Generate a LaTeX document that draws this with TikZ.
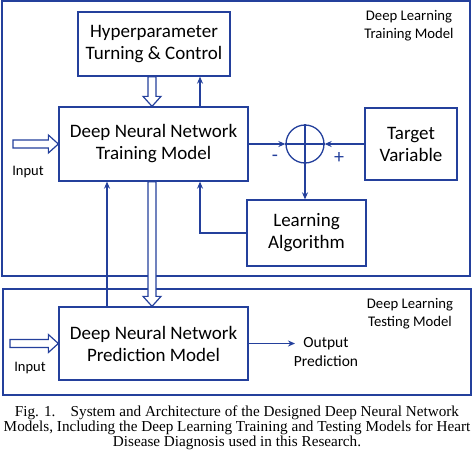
\documentclass[tikz,border=0pt]{standalone}
\usepackage{fontspec}
\setmainfont{Carlito}
\newfontfamily\capfont{Liberation Serif}
\usetikzlibrary{calc,arrows.meta,positioning}
\definecolor{dnnblue}{RGB}{36,64,156}
\tikzstyle{arrow} = [line width=1.3pt,-{Stealth[length=7pt,width=6pt]},draw=dnnblue]
\tikzstyle{box} = [draw=dnnblue,line width=1.3pt,align=center,inner sep=0pt,font=\fontsize{19}{22}\selectfont]
\tikzstyle{lbl} = [align=center,inner sep=0pt,font=\fontsize{14.7}{18}\selectfont]
\tikzstyle{hollow} = [draw=dnnblue,line width=1.2pt,fill=white]
\newcommand{\HollowArrow}[2]% #1=tail, #2=tip
{\coordinate (hb) at ($(#2)!10pt!(#1)$);
 \draw[hollow] ($(#1)!4pt!90:(#2)$) -- ($(hb)!4pt!-90:(#1)$) -- ($(hb)!9pt!-90:(#1)$)
   -- (#2) -- ($(hb)!9pt!90:(#1)$) -- ($(hb)!4pt!90:(#1)$) -- ($(#1)!4pt!-90:(#2)$) -- cycle;
}
\begin{document}
\begin{tikzpicture}[x=1pt,y=-1pt]
    \useasboundingbox (0,0) rectangle (474,458);

    % frames of the two models
    \draw[dnnblue, line width=2pt] (2,1) rectangle (470,276);
    \draw[dnnblue, line width=2pt] (3,289) rectangle (471,395);

    \node[box, minimum width=152, minimum height=64] (hyper) at (154,44) {Hyperparameter\\Turning \& Control};
    \node[box, minimum width=189, minimum height=74] (train) at (153.5,144) {Deep Neural Network\\Training Model};
    \node[box, minimum width=92, minimum height=72] (target) at (411,144) {Target\\Variable};
    \node[box, minimum width=119, minimum height=66] (learn) at (306.5,233) {Learning\\Algorithm};
    \node[box, minimum width=189, minimum height=73] (pred) at (153.5,343.5) {Deep Neural Network\\Prediction Model};

    \node[draw=dnnblue, line width=1.3pt, circle, minimum size=38, inner sep=0pt] (sum) at (305,144) {};
    \draw[dnnblue, line width=1.3pt] (sum.north) -- (sum.south) (sum.west) -- (sum.east);

    \node[lbl] (trainlbl) at (409,26) {Deep Learning\\Training Model};
    \node[lbl] (testlbl) at (410,314) {Deep Learning\\Testing Model};
    \node[lbl, font=\fontsize{14.5}{17}\selectfont] (inlbl1) at (28,172) {Input};
    \node[lbl, font=\fontsize{14.5}{17}\selectfont] (inlbl2) at (30,368) {Input};
    \node[lbl, font=\fontsize{15.5}{19}\selectfont] (outlbl) at (326,352) {Output\\Prediction};
    \node[lbl, text=dnnblue, font=\fontsize{20}{20}\selectfont] (minus) at (275,158) {-};
    \node[lbl, text=dnnblue, font=\fontsize{20}{20}\selectfont] (plus) at (339,158) {+};

    \coordinate (inA) at (13,144);
    \coordinate (inB) at (10,343.5);
    \coordinate (outtip) at (295,343.5);
    \coordinate (h1) at (hyper.south -| 152,0);
    \coordinate (h2) at (train.north -| 152,0);
    \coordinate (t2) at (train.south -| 152,0);
    \coordinate (p2) at (pred.north -| 152,0);

    % connectors
    \HollowArrow{h1}{h2}
    \draw[arrow] (train.north -| 200,0) -- (hyper.south -| 200,0);
    \HollowArrow{inA}{train.west}
    \draw[arrow] (train.east) -- (sum.west);
    \draw[arrow] (target.west) -- (sum.east);
    \draw[arrow] (sum.south) -- (sum.south |- learn.north);
    \draw[arrow] (learn.west) -| (train.south -| 200,0);
    \draw[arrow] (pred.north -| 107,0) -- (train.south -| 107,0);
    \HollowArrow{t2}{p2}
    \HollowArrow{inB}{pred.west}
    \draw[arrow] (pred.east) -- (outtip);

    \node[align=center, inner sep=0pt, font=\capfont\fontsize{15.2}{15}\selectfont] (caption) at (237,428)
      {Fig. 1.\quad System and Architecture of the Designed Deep Neural Network\\
       Models, Including the Deep Learning Training and Testing Models for Heart\\
       Disease Diagnosis used in this Research.};

\end{tikzpicture}
\end{document}
